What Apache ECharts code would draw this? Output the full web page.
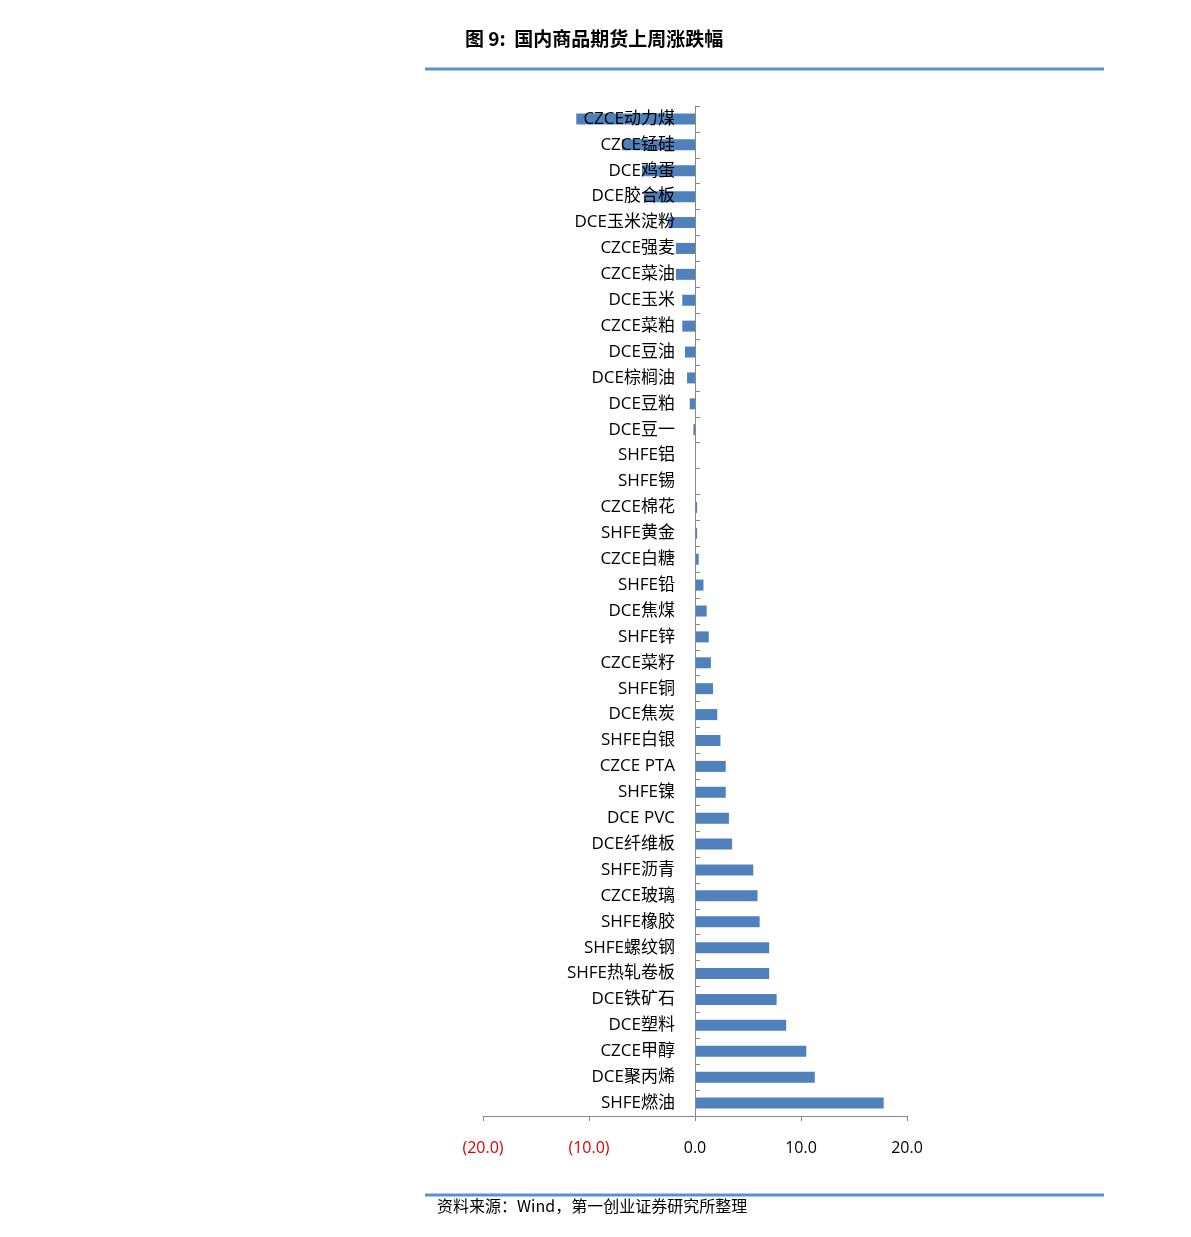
<!DOCTYPE html>
<html><head><meta charset="utf-8">
<script src="https://cdn.jsdelivr.net/npm/echarts@6/dist/echarts.min.js"></script>
<style>body{margin:0;background:#fff}#main{width:1191px;height:1237px}</style>
</head><body><div id="main"></div>
<script>
var categories = ['CZCE动力煤','CZCE锰硅','DCE鸡蛋','DCE胶合板','DCE玉米淀粉','CZCE强麦','CZCE菜油','DCE玉米','CZCE菜粕','DCE豆油','DCE棕榈油','DCE豆粕','DCE豆一','SHFE铝','SHFE锡','CZCE棉花','SHFE黄金','CZCE白糖','SHFE铅','DCE焦煤','SHFE锌','CZCE菜籽','SHFE铜','DCE焦炭','SHFE白银','CZCE PTA','SHFE镍','DCE PVC','DCE纤维板','SHFE沥青','CZCE玻璃','SHFE橡胶','SHFE螺纹钢','SHFE热轧卷板','DCE铁矿石','DCE塑料','CZCE甲醇','DCE聚丙烯','SHFE燃油'];
var changes = [-11.2,-6.9,-5.0,-4.8,-2.5,-1.8,-1.8,-1.2,-1.2,-0.95,-0.75,-0.5,-0.15,0.05,0.05,0.2,0.2,0.35,0.8,1.1,1.3,1.5,1.7,2.1,2.4,2.9,2.9,3.2,3.5,5.5,5.9,6.1,7.0,7.0,7.7,8.6,10.5,11.3,17.8];

var chart = echarts.init(document.getElementById('main'));
chart.setOption({
  title: {
    text: '图 9:  国内商品期货上周涨跌幅', left: 460, top: 24,
    textStyle: {fontSize: 19, fontWeight: 'bold', color: '#000', fontFamily: 'Noto Sans CJK SC'}
  },
  graphic: [
    {type: 'line', shape: {x1: 425, y1: 69, x2: 1104, y2: 69}, style: {stroke: '#5b8fd4', lineWidth: 3}},
    {type: 'line', shape: {x1: 425, y1: 1195, x2: 1104, y2: 1195}, style: {stroke: '#5b8fd4', lineWidth: 3}},
    {type: 'text', left: 437, top: 1198, style: {text: '资料来源：Wind，第一创业证券研究所整理', font: '16px "Noto Sans CJK SC"', fill: '#000'}}
  ],
  grid: {left: 483, right: 284, top: 106, bottom: 121},
  xAxis: {
    type: 'value', min: -20, max: 20, interval: 10,
    splitLine: {show: false},
    axisLine: {show: true, lineStyle: {color: '#888'}},
    axisTick: {show: true, lineStyle: {color: '#888'}},
    axisLabel: {
      fontSize: 16, margin: 24, fontFamily: 'Open Sans',
      formatter: function (v) { return v < 0 ? '(' + Math.abs(v).toFixed(1) + ')' : v.toFixed(1); },
      color: function (v) { return v < 0 ? '#e00000' : '#000'; }
    }
  },
  yAxis: {
    type: 'category', data: categories, inverse: true, z: 10,
    axisLine: {show: true, onZero: true, lineStyle: {color: '#888'}},
    axisTick: {show: true, inside: true, lineStyle: {color: '#888'}},
    axisLabel: {fontSize: 17, color: '#000', margin: -192, fontFamily: 'Open Sans, Noto Sans CJK SC', interval: 0}
  },
  series: [{
    type: 'bar', data: changes, barWidth: 11,
    itemStyle: {color: '#4f81bd'}
  }]
});
</script></body></html>
